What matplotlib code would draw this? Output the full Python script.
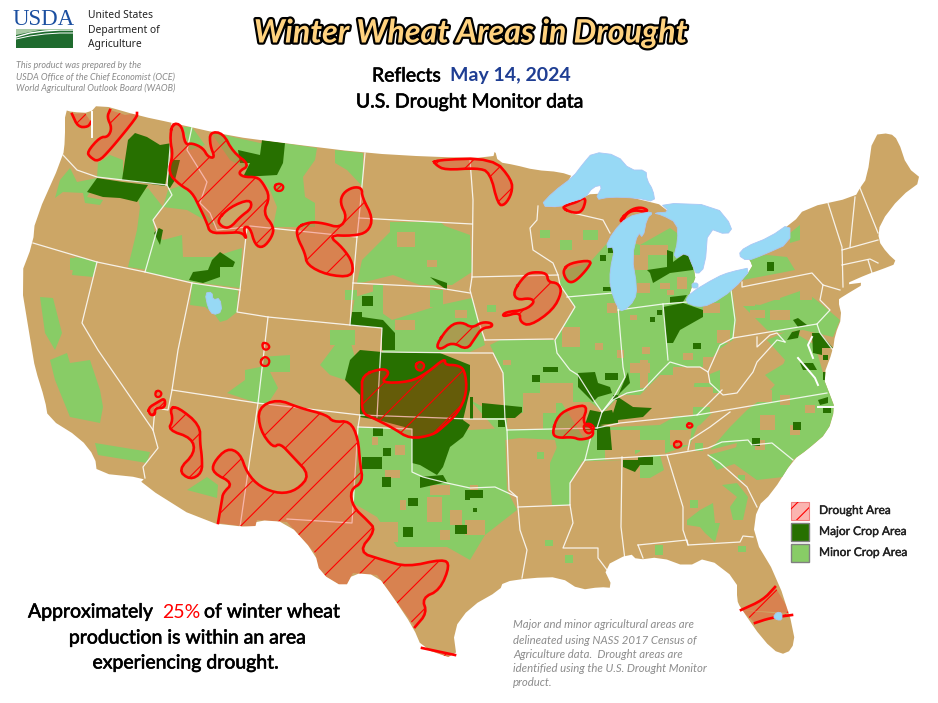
import numpy as np
import matplotlib
matplotlib.use("Agg")
import matplotlib.pyplot as plt
import matplotlib.patheffects as pe
from matplotlib.patches import Polygon, PathPatch, Rectangle
from matplotlib.path import Path

# map shapes in image pixels
LAND = [(65,110),(72,112),(90,113),(98,104),(140,116),(173,123),(230,136),(283,143),(365,153),(433,157),(493,158),(495,150),(498,162),(515,165),(535,170),(560,172),(575,177),(540,206),(560,207),(600,190),(650,202),(662,205),(680,225),(697,273),(690,292),(687,303),(710,305),(732,290),(753,268),(750,260),(745,255),(793,223),(805,208),(855,197),(860,188),(867,178),(873,135),(890,133),(898,140),(907,167),(923,180),(900,197),(880,223),(878,240),(887,253),(898,263),(880,270),(868,274),(843,285),(867,282),(842,297),(838,300),(842,317),(835,335),(833,350),(823,377),(830,395),(835,408),(828,432),(807,450),(793,460),(772,493),(757,507),(753,537),(777,577),(795,633),(792,650),(780,655),(763,640),(740,607),(737,600),(737,580),(707,557),(687,567),(660,557),(637,560),(630,553),(603,567),(613,588),(600,587),(580,590),(560,577),(530,578),(503,582),(500,590),(470,607),(453,630),(457,660),(422,648),(413,627),(393,597),(377,575),(353,573),(345,588),(320,573),(315,553),(287,522),(257,520),(255,528),(202,522),(140,483),(145,478),(97,473),(95,457),(80,438),(48,418),(45,400),(35,368),(32,350),(20,277),(33,243),(35,220),(63,157),(65,140)]

LAKES = [
    [(540,206),(553,192),(573,177),(582,165),(593,152),(617,155),(630,170),(646,170),(647,180),(653,190),(655,202),(637,198),(610,197),(595,200),(603,185),(593,187),(585,198),(567,203),(560,207)],
    [(605,248),(613,232),(627,217),(647,212),(653,213),(647,218),(643,238),(638,232),(632,257),(637,287),(635,300),(623,312),(617,307),(610,287),(610,270),(615,247)],
    [(653,213),(670,212),(660,203),(715,205),(733,227),(727,235),(708,228),(705,267),(697,275),(693,267),(687,252),(673,260),(678,240),(677,223),(662,215)],
    [(685,302),(690,293),(717,277),(730,272),(753,267),(733,290),(710,305),(697,307)],
    [(738,255),(745,247),(770,237),(790,223),(790,243),(763,255),(747,261)],
    [(692,283),(698,283),(698,288),(692,288)],
    [(205,293),(212,292),(213,300),(220,298),(222,312),(213,315),(208,308)],
    [(773,617),(777,612),(782,613),(782,620),(777,620)],
]

# minor crop areas (light green)
MINOR = [
    [(97,177),(98,163),(110,155),(123,160),(123,180)],
    [(55,198),(60,180),(70,168),(77,182),(97,178),(93,187),(87,197),(103,200),(100,205),(85,203),(83,193),(63,192)],
    [(128,267),(137,230),(140,207),(137,195),(148,188),(155,197),(163,207),(153,220),(155,233),(147,270)],
    [(145,272),(155,233),(163,240),(182,235),(183,257),(213,257),(242,248),(240,288),(192,282)],
    [(168,190),(183,185),(200,207),(217,227),(187,210),(163,207)],
    [(192,127),(183,127),(190,150),(205,145)],
    [(210,131),(233,137),(260,143),(283,143),(317,148),(315,160),(303,177),(305,197),(315,203),(315,227),(273,227),(277,207),(270,190),(260,177),(230,160)],
    [(335,150),(363,153),(363,187),(347,170),(335,163)],
    [(190,305),(192,283),(238,290),(237,312),(227,320),(220,322),(215,315),(205,307)],
    [(72,275),(75,257),(97,262),(93,277)],
    [(362,260),(390,232),(390,222),(440,222),(445,226),(470,235),(472,272),(452,285),(420,285),(393,275),(365,282),(357,283)],
    [(355,297),(378,290),(378,310),(392,320),(440,305),(472,298),(485,345),(470,352),(383,352),(382,328),(350,325)],
    [(320,365),(335,345),(350,340),(360,375),(345,380),(330,375)],
    [(558,285),(566,270),(590,262),(610,240),(625,240),(640,245),(670,228),(680,235),(680,255),(700,273),(692,295),(700,305),(732,290),(736,320),(733,340),(718,350),(700,375),(660,375),(640,395),(620,395),(604,412),(590,402),(560,402),(522,422),(505,418),(503,372),(490,345),(500,340),(555,340),(575,307),(560,285)],
    [(358,427),(470,430),(505,428),(507,490),(517,510),(485,535),(470,560),(447,547),(397,547),(377,517),(353,503)],
    [(470,400),(505,419),(520,420),(560,400),(585,440),(590,428),(660,425),(690,408),(695,380),(720,370),(720,405),(700,425),(660,440),(625,460),(560,462),(555,440),(520,438),(505,440)],
    [(550,463),(557,447),(587,440),(583,460),(570,483),(570,505),(552,505),(550,480)],
    [(730,427),(747,410),(760,400),(775,385),(765,375),(790,360),(800,345),(825,380),(835,408),(828,432),(807,450),(793,460),(783,477),(757,480),(747,473),(733,463),(737,443),(710,450)],
    [(740,303),(760,305),(803,290),(820,303),(840,320),(833,337),(803,330),(780,333),(767,330)],
    [(750,257),(767,255),(787,257),(795,270),(780,273),(743,280)],
    [(790,233),(800,225),(800,240),(790,243)],
    [(767,340),(790,330),(815,345),(825,380),(800,400),(760,405),(775,385),(785,360)],
    [(40,297),(53,298),(62,333),(55,350),(45,333)],
    [(50,360),(67,353),(70,363),(90,360),(100,390),(103,407),(100,423),(70,417),(55,380)],
    [(95,443),(150,452),(147,463),(98,455)],
    [(187,490),(207,477),(218,485),(217,498)],
    [(227,393),(245,380),(245,370),(260,367),(260,357),(290,355),(290,372),(270,372),(278,388),(267,405),(257,403)],
    [(687,520),(700,510),(713,503),(715,523),(720,523),(715,542),(705,533),(700,527),(687,525)],
    [(722,485),(737,483),(748,497),(743,520),(733,520),(730,507),(737,497)],
    [(708,455),(727,450),(750,443),(763,463),(783,460),(777,472),(757,480),(747,472),(737,463),(717,470)],
    [(650,470),(653,435),(675,435),(690,443),(692,425),(700,420),(690,445),(660,455)],
    [(640,458),(660,455),(664,470),(650,478),(640,478)],
]

MINOR_BLOCKS = [(70,258,16,12),(345,290,12,10),(373,285,10,32),(330,330,25,15),(540,230,10,8),(560,240,12,10),(583,230,15,10),(647,255,12,8),(655,545,8,10),(487,305,9,7),(695,443,8,8),(738,475,7,5),(545,540,8,6),(472,525,10,10),(565,555,8,8),(738,546,8,6),(690,500,8,8),(537,452,7,7),(430,290,13,17)]

# tan county blocks showing through the minor areas
BROWN_BLOCKS = [(397,232,18,15),(427,260,10,7),(640,245,28,10),(633,255,15,15),(677,277,10,12),(660,283,10,6),(637,283,13,10),(667,290,7,5),(607,303,10,10),(562,327,18,20),(595,343,8,7),(617,350,7,8),(630,315,7,5),(642,347,8,7),(630,363,20,10),(640,360,8,28),(703,303,17,10),(717,330,13,13),(703,357,13,13),(683,353,10,7),(653,387,20,16),(673,367,37,16),(680,387,33,20),(650,400,43,16),(710,393,27,20),(523,393,33,20),(503,360,8,5),(540,383,33,20),(507,413,36,16),(385,290,35,12),(395,320,20,10),(455,310,12,8),(750,310,15,8),(770,285,10,15),(800,290,12,10),(770,310,20,10),(735,300,20,6),(820,340,5,5),(757,390,15,12),(780,395,10,10),(760,415,15,15),(790,425,10,10),(805,405,10,8),(755,440,10,10),(470,485,8,5),(372,437,6,8),(385,470,15,8),(395,445,10,10),(427,497,15,25),(430,485,20,10),(450,510,12,15),(465,520,20,15),(380,522,18,20),(400,500,6,10),(440,530,10,10),(600,430,40,20),(605,450,30,10),(640,440,25,15),(670,430,20,15)]

# major crop areas (dark green)
MAJOR = [
    [(122,180),(128,140),(135,133),(147,137),(160,145),(172,143),(165,186)],
    [(87,192),(97,178),(123,182),(148,185),(137,202),(120,198),(103,197)],
    [(154,233),(159,228),(163,230),(160,245)],
    [(189,280),(193,272),(208,270),(212,260),(220,252),(235,262),(233,267),(220,267),(220,277),(203,283)],
    [(238,150),(260,155),(262,140),(285,143),(283,163),(277,175),(243,177),(250,163),(240,163)],
    [(167,187),(170,160),(180,160),(175,180),(170,188)],
    [(430,277),(447,283),(447,290),(437,283)],
    [(350,325),(352,312),(362,312),(362,317),(383,320),(395,333),(395,350),(382,350),(382,328)],
    [(382,352),(440,353),(470,365),(470,390),(463,420),(470,425),(463,437),(450,447),(443,467),(437,475),(420,465),(412,463),(412,429),(378,420),(360,417),(360,395),(345,380),(350,360),(360,350)],
    [(420,477),(443,475),(447,482),(420,488)],
    [(482,403),(522,407),(522,412),(515,418),(482,418)],
    [(578,373),(595,372),(598,383),(610,387),(612,393),(598,397),(593,402),(578,387)],
    [(617,398),(628,372),(630,383),(620,393)],
    [(613,413),(618,397),(633,407),(652,408),(643,417),(618,420),(618,423),(600,425),(600,412),(612,410)],
    [(583,430),(590,410),(600,412),(600,425),(610,427),(612,450),(597,450),(597,430)],
    [(623,460),(638,460),(638,457),(653,457),(653,465),(640,465),(635,472),(623,467)],
    [(663,307),(683,303),(703,310),(703,317),(680,330),(673,343),(667,343)],
    [(670,297),(687,295),(683,302),(670,303)],
    [(647,270),(667,267),(667,250),(673,252),(673,262),(687,252),(693,267),(693,270),(670,273),(653,283),(650,273)],
    [(792,332),(800,330),(798,338),(787,340)],
    [(793,320),(798,318),(807,325),(798,327)],
    [(812,333),(820,333),(833,348),(822,348),(822,355),(813,353)],
    [(800,363),(813,363),(817,370),(803,370)],
    [(818,400),(828,397),(828,403),(820,405)],
]

MAJOR_BLOCKS = [(362,296,11,10),(373,428,10,8),(383,448,8,8),(362,457,20,12),(382,477,9,10),(408,498,10,8),(403,527,10,10),(455,525,12,9),(465,490,5,10),(498,420,7,7),(470,397,3,22),(605,373,13,7),(532,375,8,7),(543,367,15,5),(613,395,5,5),(693,343,8,6),(650,317,5,5),(657,310,5,5),(603,287,8,4),(600,255,6,6),(608,245,5,8),(767,262,7,9),(823,372,3,8),(823,355,5,5),(793,422,8,8),(752,438,8,8),(823,407,8,6),(470,490,13,8),(473,508,4,4)]

# drought areas: red line part, then the part that follows the coast or border with no line
DROUGHT = [
    ([(72,114),(78,127),(88,127),(91,122)], [(85,113)]),
    ([(110,110),(107,117),(112,128),(108,137),(100,137),(87,152),(90,157),(98,162),(110,150),(137,117),(137,113)], [(125,115)]),
    ([(172,123),(170,140),(173,155),(168,173),(180,185),(192,192),(200,208),(207,223),(210,233),(227,233),(242,232),(247,240),(243,227),(250,227),(255,245),(263,248),(272,237),(274,227),(263,213),(270,197),(263,183),(257,177),(243,177),(238,172),(250,165),(233,152),(223,133),(210,132),(210,145),(215,158),(208,157),(203,148),(192,143),(185,145),(182,125)], []),
    ([(297,227),(310,222),(323,223),(340,228),(347,217),(340,203),(343,193),(353,187),(362,188),(362,197),(373,218),(368,232),(353,236),(328,235),(343,248),(353,263),(352,277),(327,275),(307,265),(305,253),(297,237)], []),
    ([(433,160),(436,165),(445,170),(477,168),(490,172),(498,205),(505,205),(512,193),(512,180),(493,158)], []),
    ([(562,208),(573,213),(582,212),(586,200),(583,198),(577,202),(567,205)], []),
    ([(620,220),(630,210),(640,207),(648,210),(645,212),(635,210),(627,213),(622,222)], []),
    ([(563,270),(570,263),(592,260),(588,268),(577,280),(570,283),(565,278)], []),
    ([(513,292),(525,275),(533,272),(547,273),(548,282),(558,283),(562,292),(553,310),(530,326),(520,322),(520,312),(502,317),(505,312),(525,310),(535,302),(530,298),(517,300)], []),
    ([(436,345),(450,325),(462,322),(472,328),(482,322),(492,323),(492,327),(482,328),(475,338),(467,350),(452,342),(440,350)], []),
    ([(362,375),(383,368),(390,373),(380,383),(410,382),(427,373),(445,358),(445,365),(457,365),(465,370),(467,393),(458,413),(443,427),(433,435),(410,439),(393,428),(373,418),(362,413),(362,393)], []),
    ([(552,433),(558,415),(573,407),(588,405),(582,423),(593,428),(593,437),(580,440),(573,437),(557,438)], []),
    ([(148,408),(150,415),(155,415),(155,408),(165,408),(165,398),(158,402)], []),
    ([(170,408),(178,407),(200,425),(200,443),(202,457),(202,473),(190,480),(178,470),(195,453),(192,438),(168,430),(173,420)], []),
    ([(218,523),(222,500),(223,493),(233,483),(213,473),(213,463),(227,448),(240,453),(247,473),(260,487),(280,494),(297,490),(310,475),(293,457),(280,443),(273,448),(260,430),(258,408),(277,399),(300,408),(327,415),(333,422),(350,421),(358,438),(360,463),(363,482),(350,490),(353,507),(367,520),(376,530),(358,552),(383,560),(407,567),(443,559),(450,565),(440,590),(422,598),(427,613),(415,627)], [(393,597),(377,575),(353,573),(345,588),(320,573),(315,553),(287,522),(257,520),(255,528)]),
    ([(422,648),(455,655)], [(457,662),(433,657)]),
    ([(741,610),(763,600),(775,587)], [(791,613)]),
    ([(792,615),(770,618),(755,623)], [(741,610)]),
]

# small rings
DROUGHT_RINGS = [
    [(274,186),(279,183),(284,186),(282,191),(276,191)],
    [(260,361),(265,356),(270,360),(268,366),(262,366)],
    [(155,393),(158,390),(162,393),(160,397),(156,397)],
    [(415,365),(420,361),(425,365),(422,371),(417,370)],
    [(262,343),(267,343),(270,347),(267,350),(263,349)],
    [(687,424),(691,423),(693,426),(690,428),(687,427)],
    [(674,442),(680,441),(682,445),(678,448),(674,447)],
    [(583,425),(590,423),(595,428),(590,434),(585,432)],
]

# hole in the northern drought polygon
DROUGHT_HOLE = [(217,220),(230,207),(250,199),(252,208),(240,217),(230,228),(222,227)]

WATER_CUTS = [
    [(92,112),(92,122),(92,137)],
    [(812,337),(808,345),(813,358)],
    [(798,358),(815,378),(818,385)],
    [(818,407),(835,407)],
]

STATE_LINES = [
    [(63,155),(77,170),(97,177),(123,180),(167,185)],
    [(172,123),(167,185),(172,195),(153,220),(157,230),(145,272)],
    [(33,243),(97,262),(145,272),(192,283),(240,290)],
    [(192,127),(187,150),(207,182),(200,203),(210,213),(217,230),(247,227),(240,290),(237,312),(268,317),(350,325),(382,328),(377,417)],
    [(250,226),(357,237),(353,283),(350,325)],
    [(365,153),(359,218),(357,237)],
    [(359,218),(472,224)],
    [(353,283),(433,287),(470,293)],
    [(382,352),(470,353),(493,353),(503,373),(505,419),(507,430),(509,490),(517,497),(518,507),(520,530),(527,550),(522,578)],
    [(192,283),(178,350),(172,390),(168,410),(155,408),(153,430),(158,448),(143,467),(145,478)],
    [(97,262),(82,323),(98,350),(153,430)],
    [(172,390),(257,403),(360,415),(470,419),(505,419)],
    [(268,317),(258,403),(240,527)],
    [(360,415),(358,427),(352,523),(287,519)],
    [(358,427),(412,429),(412,472),(423,477),(447,483),(470,488),(495,487),(517,497)],
    [(485,340),(553,339)],
    [(507,430),(597,428),(620,423),(697,415),(827,393)],
    [(593,428),(585,460),(570,483),(570,505),(518,507)],
    [(570,505),(573,523),(563,548),(598,548),(598,558),(607,570)],
    [(585,460),(667,455),(708,448),(722,442),(748,440),(752,445),(772,443),(793,460)],
    [(622,457),(621,527),(625,560)],
    [(667,455),(683,507),(683,530),(688,545)],
    [(638,545),(687,540),(688,545),(740,542),(743,536),(753,537)],
    [(638,545),(643,558)],
    [(708,455),(720,463),(747,487),(757,507)],
    [(688,450),(690,440),(710,427),(730,412)],
    [(538,206),(537,220),(530,228),(533,250),(553,263),(558,275),(560,285),(575,307),(563,327),(555,340),(557,353),(570,370),(578,375),(595,402),(602,412),(597,428)],
    [(470,160),(473,200),(472,277),(470,290),(478,320),(485,340)],
    [(472,277),(558,275)],
    [(567,297),(613,293)],
    [(573,213),(603,220),(610,233)],
    [(618,307),(623,367),(625,377),(615,395),(602,412)],
    [(618,310),(663,304),(687,302)],
    [(663,304),(668,360)],
    [(602,412),(613,400),(627,393),(643,390),(660,372),(670,362),(687,367),(700,367),(708,372),(720,345),(733,338),(735,320),(731,290)],
    [(708,372),(710,383),(723,395),(737,393),(753,372),(757,362),(777,340),(785,342)],
    [(697,415),(722,390)],
    [(733,338),(817,324)],
    [(757,337),(757,347),(770,335),(777,333),(785,342)],
    [(742,282),(742,287),(812,273),(823,285),(840,290)],
    [(823,285),(820,300),(830,310),(817,324),(820,333),(833,350)],
    [(828,203),(842,247),(843,287)],
    [(842,250),(878,240)],
    [(842,265),(870,259),(878,263)],
    [(855,197),(850,247)],
    [(860,188),(878,233)],
    [(868,260),(872,273)],
]

LEGEND_LABELS = ["Drought Area", "Major Crop Area", "Minor Crop Area"]
LOGO_LINES = ["United States", "Department of", "Agriculture"]
CREDIT_LINES = ["This product was prepared by the", "USDA Office of the Chief Economist (OCE)", "World Agricultural Outlook Board (WAOB)"]
NOTE_LINES = ["Major and minor agricultural areas are", "delineated using NASS 2017 Census of", "Agriculture data.  Drought areas are", "identified using the U.S. Drought Monitor", "product."]

LAND_COLOR = "#CCA666"
MINOR_COLOR = "#88CC66"
MAJOR_COLOR = "#277000"
LAKE_COLOR = "#97D9F5"
DROUGHT_FILL = (247 / 255, 47 / 255, 30 / 255, 0.3)
RED = "#FF0000"
FONT = "Lato"

plt.rcParams["font.family"] = [FONT, "DejaVu Sans"]
plt.rcParams["hatch.linewidth"] = 0.8
plt.rcParams["hatch.color"] = RED

fig = plt.figure(figsize=(9.38, 7.03), dpi=100)
ax = fig.add_axes([0, 0, 1, 1])
ax.set_xlim(0, 938)
ax.set_ylim(703, 0)
ax.axis("off")

HEAVY = [pe.withStroke(linewidth=0.45, foreground="black")]


def soften_corners(pts, closed=False, rounds=2):
    # corner cutting so outlines look hand traced instead of polygonal
    arr = np.array(pts, dtype=float)
    for _ in range(rounds):
        nxt = np.roll(arr, -1, axis=0) if closed else arr[1:]
        cur = arr if closed else arr[:-1]
        q = 0.75 * cur + 0.25 * nxt
        r = 0.25 * cur + 0.75 * nxt
        mid = np.empty((q.shape[0] * 2, 2))
        mid[0::2] = q
        mid[1::2] = r
        arr = mid if closed else np.vstack([arr[:1], mid, arr[-1:]])
    return [tuple(p) for p in arr]


def signed_area(pts):
    arr = np.array(pts)
    return 0.5 * np.sum(arr[:, 0] * np.roll(arr[:, 1], -1) - np.roll(arr[:, 0], -1) * arr[:, 1])


def oriented(pts, positive):
    return list(pts) if (signed_area(pts) > 0) == positive else list(pts)[::-1]


def make_path(rings):
    verts, codes = [], []
    for ring in rings:
        verts += list(ring) + [ring[0]]
        codes += [Path.MOVETO] + [Path.LINETO] * (len(ring) - 1) + [Path.CLOSEPOLY]
    return Path(verts, codes)


def draw_drought(rings, land):
    path = make_path(rings)
    fill = PathPatch(path, facecolor=DROUGHT_FILL, edgecolor="none", lw=0, zorder=5)
    hatch = PathPatch(path, facecolor="none", edgecolor=RED, hatch="/", lw=0, zorder=6)
    for p in (fill, hatch):
        ax.add_patch(p)
        p.set_clip_path(land)


land = Polygon(soften_corners(LAND, closed=True, rounds=1), closed=True, facecolor=LAND_COLOR, edgecolor="none", zorder=1)
ax.add_patch(land)

for poly in MINOR:
    p = Polygon(poly, closed=True, facecolor=MINOR_COLOR, edgecolor="none", zorder=2)
    ax.add_patch(p)
    p.set_clip_path(land)
for x, y, w, h in MINOR_BLOCKS:
    p = Rectangle((x, y), w, h, facecolor=MINOR_COLOR, edgecolor="none", zorder=2.2)
    ax.add_patch(p)
    p.set_clip_path(land)
for x, y, w, h in BROWN_BLOCKS:
    p = Rectangle((x, y), w, h, facecolor=LAND_COLOR, edgecolor="none", zorder=2.5)
    ax.add_patch(p)
    p.set_clip_path(land)
for poly in MAJOR:
    p = Polygon(poly, closed=True, facecolor=MAJOR_COLOR, edgecolor="none", zorder=3)
    ax.add_patch(p)
    p.set_clip_path(land)
for x, y, w, h in MAJOR_BLOCKS:
    p = Rectangle((x, y), w, h, facecolor=MAJOR_COLOR, edgecolor="none", zorder=3)
    ax.add_patch(p)
    p.set_clip_path(land)

for line in STATE_LINES:
    xs, ys = zip(*line)
    ax.plot(xs, ys, color="white", lw=0.9, alpha=0.85, zorder=4, solid_joinstyle="round")

for i, (stroke, rest) in enumerate(DROUGHT):
    if rest:
        line = soften_corners(stroke)
    else:
        line = soften_corners(stroke, closed=True)
    outer = oriented(line + rest, True)
    rings = [outer]
    if i == 2:
        rings.append(oriented(soften_corners(DROUGHT_HOLE, closed=True), False))
    draw_drought(rings, land)
    if not rest:
        line = line + line[:1]
    xs, ys = zip(*line)
    ax.plot(xs, ys, color=RED, lw=1.9, zorder=7, solid_joinstyle="round")

hole = soften_corners(DROUGHT_HOLE, closed=True)
xs, ys = zip(*(hole + hole[:1]))
ax.plot(xs, ys, color=RED, lw=1.9, zorder=7)
for ring in DROUGHT_RINGS:
    ring = soften_corners(ring, closed=True)
    draw_drought([oriented(ring, True)], land)
    xs, ys = zip(*(ring + ring[:1]))
    ax.plot(xs, ys, color=RED, lw=1.6, zorder=7)

for lake in LAKES:
    ax.add_patch(Polygon(soften_corners(lake, closed=True, rounds=1), closed=True, facecolor=LAKE_COLOR, edgecolor="#A9C6F5", lw=0.6, zorder=8))

for cut in WATER_CUTS:
    xs, ys = zip(*cut)
    ax.plot(xs, ys, color="white", lw=1.4, zorder=8)

# usda logo
ax.text(44, 25, "USDA", color="#1B4FA0", fontsize=16.5, family="Liberation Serif", ha="center", va="baseline", zorder=10)
ax.add_patch(Rectangle((16, 29), 57, 19, facecolor="#1F6B2E", edgecolor="none", zorder=9))
wave_x = np.array([16, 30, 45, 60, 73])
ax.plot(wave_x, [37, 33, 31, 30, 30], color="white", lw=1.0, zorder=10)
ax.plot(wave_x, [39, 36, 34, 33, 33], color="white", lw=0.7, zorder=10)
ax.add_patch(Polygon([(16, 29), (73, 29), (73, 30), (40, 30), (16, 35)], facecolor="#A9C9A4", edgecolor="none", zorder=10))

for yy, line in zip([16, 30, 45], LOGO_LINES):
    ax.text(88, yy, line, fontsize=7.4, color="#222222", va="center", ha="left", fontweight="bold", family="Noto Sans", zorder=10)
for yy, line in zip([65, 77, 88], CREDIT_LINES):
    ax.text(16, yy, line, fontsize=6.5, color="#8A8A8A", style="italic", va="center", ha="left")

# title
ax.text(471, 33, "Winter Wheat Areas in Drought", fontsize=23.2, fontweight="bold", style="italic", color="#FFD27F", ha="center", va="center", zorder=11,
        path_effects=[pe.withStroke(linewidth=3.2, foreground="black")])
ax.text(372, 76, "Reflects", fontsize=14, color="black", ha="left", va="center", path_effects=HEAVY)
ax.text(450, 76, "May 14, 2024", fontsize=14, color="#1F3E93", ha="left", va="center", fontweight="bold")
ax.text(470, 102, "U.S. Drought Monitor data", fontsize=14, color="black", ha="center", va="center", path_effects=HEAVY)

# legend
legend_y = [502, 523, 544]
ax.add_patch(Rectangle((791, legend_y[0]), 18, 18, facecolor="#FBB4B0", edgecolor="#F08080", lw=0.8, zorder=10))
ax.add_patch(Rectangle((791, legend_y[0]), 18, 18, facecolor="none", edgecolor=RED, hatch="//", lw=0, zorder=11))
ax.add_patch(Rectangle((791, legend_y[1]), 18, 18, facecolor=MAJOR_COLOR, edgecolor="#808080", lw=1, zorder=10))
ax.add_patch(Rectangle((791, legend_y[2]), 18, 18, facecolor=MINOR_COLOR, edgecolor="#808080", lw=1, zorder=10))
for yy, lab in zip(legend_y, LEGEND_LABELS):
    ax.text(819, yy + 8.5, lab, fontsize=8.6, color="#222222", va="center", ha="left",
            path_effects=[pe.withStroke(linewidth=0.3, foreground="#222222")])

# summary text
ax.text(28, 612, "Approximately ", fontsize=14, color="black", ha="left", va="center", path_effects=HEAVY)
ax.text(162, 612, "25%", fontsize=14, color="#FF0000", ha="left", va="center")
ax.text(204, 612, "of winter wheat", fontsize=14, color="black", ha="left", va="center", path_effects=HEAVY)
ax.text(188, 638, "production is within an area", fontsize=14, color="black", ha="center", va="center", path_effects=HEAVY)
ax.text(186, 663, "experiencing drought.", fontsize=14, color="black", ha="center", va="center", path_effects=HEAVY)

for yy, line in zip([625, 640, 654, 668, 683], NOTE_LINES):
    ax.text(513, yy, line, fontsize=8.2, color="#8C8C8C", style="italic", ha="left", va="center")

fig.savefig("out.png", dpi=100)
